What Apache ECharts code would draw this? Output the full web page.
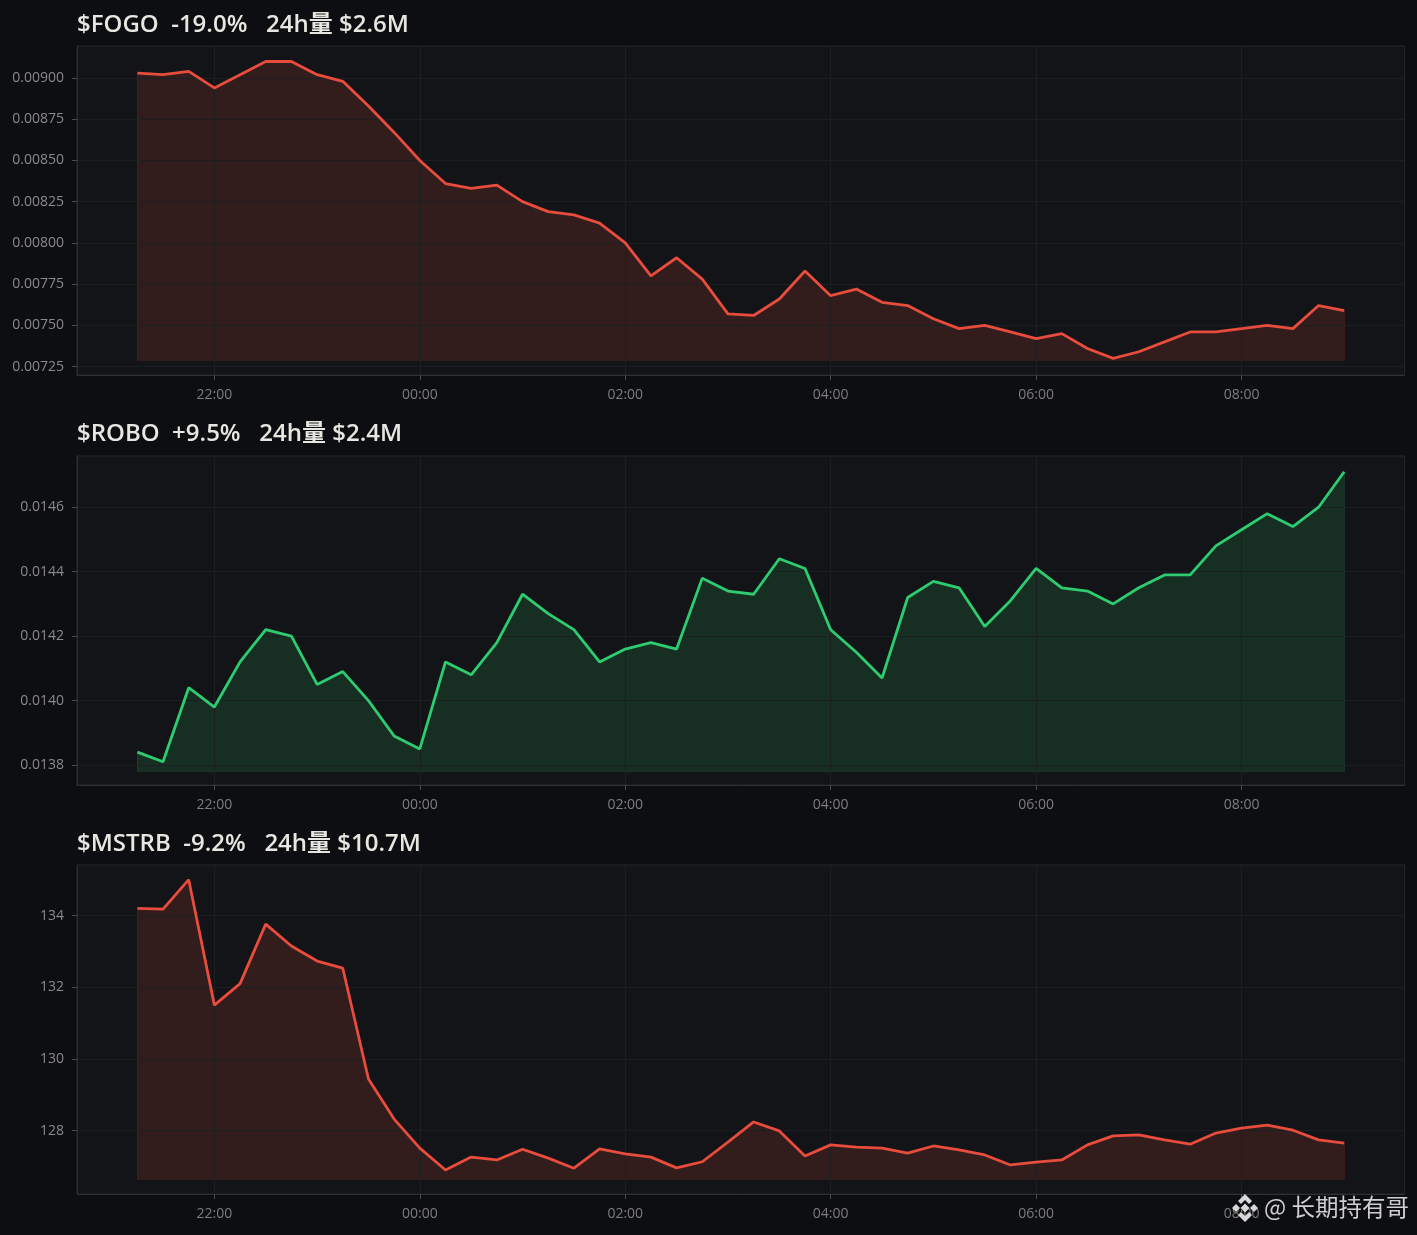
<!DOCTYPE html>
<html><head><meta charset="utf-8">
<style>html,body{margin:0;padding:0;background:#0d0e11}#c{width:1417px;height:1235px}</style>
<script src="https://cdn.jsdelivr.net/npm/echarts@6/dist/echarts.min.js"></script>
</head><body><div id="c"></div>
<script>
const times = ["21:15","21:30","21:45","22:00","22:15","22:30","22:45","23:00","23:15","23:30","23:45","00:00","00:15","00:30","00:45","01:00","01:15","01:30","01:45","02:00","02:15","02:30","02:45","03:00","03:15","03:30","03:45","04:00","04:15","04:30","04:45","05:00","05:15","05:30","05:45","06:00","06:15","06:30","06:45","07:00","07:15","07:30","07:45","08:00","08:15","08:30","08:45","09:00"];
const fogo = [.00903,.00902,.00904,.00894,.00902,.0091,.0091,.00902,.00898,.00883,.00867,.0085,.00836,.00833,.00835,.00825,.00819,.00817,.00812,.008,.0078,.00791,.00778,.00757,.00756,.00766,.00783,.00768,.00772,.00764,.00762,.00754,.00748,.0075,.00746,.00742,.00745,.00736,.0073,.00734,.0074,.00746,.00746,.00748,.0075,.00748,.00762,.00759];
const robo = [.01384,.01381,.01404,.01398,.01412,.01422,.0142,.01405,.01409,.014,.01389,.01385,.01412,.01408,.01418,.01433,.01427,.01422,.01412,.01416,.01418,.01416,.01438,.01434,.01433,.01444,.01441,.01422,.01415,.01407,.01432,.01437,.01435,.01423,.01431,.01441,.01435,.01434,.0143,.01435,.01439,.01439,.01448,.01453,.01458,.01454,.0146,.01471];
const mstrb = [134.2,134.18,135.0,131.5,132.1,133.76,133.15,132.73,132.53,129.44,128.32,127.51,126.9,127.26,127.18,127.48,127.23,126.95,127.49,127.35,127.26,126.96,127.13,127.68,128.24,127.99,127.29,127.6,127.54,127.51,127.37,127.57,127.46,127.32,127.04,127.12,127.18,127.6,127.85,127.88,127.74,127.62,127.93,128.07,128.15,128.01,127.74,127.65];
const titles = ["$FOGO  -19.0%   24h量 $2.6M","$ROBO  +9.5%   24h量 $2.4M","$MSTRB  -9.2%   24h量 $10.7M"];
const xTickLabels = ["22:00","00:00","02:00","04:00","06:00","08:00"];
const fogoTicks = [.00725,.0075,.00775,.008,.00825,.0085,.00875,.009];
const roboTicks = [.0138,.014,.0142,.0144,.0146];
const mstrbTicks = [128,130,132,134];

const UP = '#2ecc71', DOWN = '#e74c3c';
const FONT = '"Open Sans","Noto Sans","Noto Sans CJK SC",sans-serif';
const toH = s => { const [h,m] = s.split(':').map(Number); return (h < 12 ? h + 24 : h) + m / 60; };
const fromH = v => { const h = Math.round(v) % 24; return String(h).padStart(2,'0') + ':00'; };
const xs = times.map(toH);
const xPad = (xs[xs.length-1] - xs[0]) * 0.05;
const panels = [
  {data: fogo, ticks: fogoTicks, color: DOWN, top: 46, min: .007199, max: .009194, base: .00729, dec: 5, title: titles[0], ty: 25},
  {data: robo, ticks: roboTicks, color: UP, top: 456, min: .013738, max: .014759, base: .013781, dec: 4, title: titles[1], ty: 434},
  {data: mstrb, ticks: mstrbTicks, color: DOWN, top: 865, min: 126.23, max: 135.41, base: 126.65, dec: 0, title: titles[2], ty: 844}
];
const logoFill = {fill:'#d8d8d8'};
const logo = [
  [[1245,1194],[1252,1201],[1249,1204],[1245,1200],[1241,1204],[1238,1201]],
  [[1245,1222],[1252,1215],[1249,1212],[1245,1216],[1241,1212],[1238,1215]],
  [[1245,1203.5],[1249.5,1208],[1245,1212.5],[1240.5,1208]],
  [[1232,1208],[1236,1204],[1240,1208],[1236,1212]],
  [[1258,1208],[1254,1204],[1250,1208],[1254,1212]]
];
const option = {
  backgroundColor: '#0d0e11', animation: false,
  title: [], grid: [], xAxis: [], yAxis: [], series: [],
  graphic: logo.map(points => ({type:'polygon', z:100, silent:true, shape:{points}, style:logoFill})).concat([
    {type:'text', left:1264, top:1195, z:100, silent:true, style:{text:'@ 长期持有哥', fill:'#cfcfcf', font:'23.5px "Noto Sans CJK SC","Noto Sans",sans-serif'}}
  ])
};
panels.forEach((p,i) => {
  option.title.push({text:p.title, left:77, top:p.ty, textVerticalAlign:'middle', padding:0,
    textStyle:{color:'#e8e6e0', fontSize:24, fontWeight:600, fontFamily:FONT}});
  option.grid.push({left:77, width:1327.6, top:p.top, height:329, backgroundColor:'#131417', show:true, borderColor:'#26272a', borderWidth:1, containLabel:false});
  const tickX = xTickLabels.map(toH);
  option.xAxis.push({type:'value', gridIndex:i, z:3, min:xs[0]-xPad, max:xs[xs.length-1]+xPad,
    axisLine:{show:true, lineStyle:{color:'#2f3033'}},
    axisTick:{show:true, length:5, customValues:tickX, lineStyle:{color:'#4a4b4e'}},
    axisLabel:{customValues:tickX, color:'#7d7d7d', fontSize:14, fontFamily:FONT, margin:13, formatter:fromH},
    splitLine:{show:true, lineStyle:{color:'#1d1e22', width:1}}});
  option.yAxis.push({type:'value', gridIndex:i, z:3, min:p.min, max:p.max, scale:true,
    axisLine:{show:true, lineStyle:{color:'#2f3033'}},
    axisTick:{show:true, length:5, customValues:p.ticks, lineStyle:{color:'#4a4b4e'}},
    axisLabel:{customValues:p.ticks, color:'#8a8a8a', fontSize:14, fontFamily:FONT, margin:13, padding:[2,0,0,0], formatter:v => v.toFixed(p.dec)},
    splitLine:{show:true, lineStyle:{color:'#1d1e22', width:1}}});
  const pts = p.data.map((v,j) => [xs[j], v]);
  const x0 = xs[0], xN = xs[xs.length-1];
  option.series.push({type:'line', xAxisIndex:i, yAxisIndex:i, data:pts, z:2, silent:true, showSymbol:false, symbol:'none',
    lineStyle:{width:0, opacity:0}, areaStyle:{color:p.color, opacity:0.145, origin:p.base},
    markLine:{silent:true, symbol:'none', label:{show:false}, animation:false,
      lineStyle:{color:p.color, opacity:0.14, width:1, type:'solid'},
      data:[
        [{coord:[x0,p.base]},{coord:[xN,p.base]}],
        [{coord:[x0,p.base]},{coord:[x0,p.data[0]]}],
        [{coord:[xN,p.base]},{coord:[xN,p.data[p.data.length-1]]}]
      ]}});
  option.series.push({type:'line', xAxisIndex:i, yAxisIndex:i, data:pts, z:5, silent:true, showSymbol:false, symbol:'none',
    lineStyle:{width:2.8, color:p.color}});
});
echarts.init(document.getElementById('c')).setOption(option);
</script></body></html>
